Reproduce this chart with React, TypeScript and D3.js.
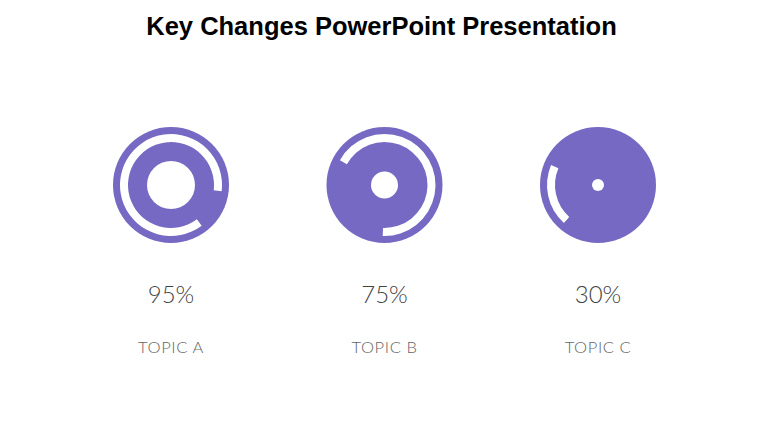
import React, { useRef, useEffect } from 'react';
import * as d3 from 'd3';

// Data
const topics = ['TOPIC A', 'TOPIC B', 'TOPIC C'];
const percents = [95, 75, 30];
// white progress arc, degrees clockwise from 12 o'clock
const arcStarts = [143, -61, 222];
const arcEnds = [457, 182, 293];
// white centre hole radius (px)
const holeRadii = [24, 13.5, 6];

const W = 768;
const H = 432;
const PURPLE = '#7569c3';

const App = () => {
  const svgRef = useRef<SVGSVGElement | null>(null);

  useEffect(() => {
    const svg = d3.select(svgRef.current);
    svg.selectAll('*').remove();

    svg.append('rect').attr('width', W).attr('height', H).attr('fill', '#ffffff');

    // titulo
    svg.append('text')
      .attr('x', 381.5)
      .attr('y', 35)
      .attr('text-anchor', 'middle')
      .style('font-family', 'Liberation Sans, Arial, sans-serif')
      .style('font-weight', 'bold')
      .style('font-size', '25.5px')
      .attr('fill', '#000')
      .text('Key Changes PowerPoint Presentation');

    const x = d3.scalePoint<string>()
      .domain(topics)
      .range([171, 598]);

    const cy = 185;
    const outerR = 58;
    const toRad = (d: number) => (d * Math.PI) / 180;

    const ring = d3.arc<any>()
      .innerRadius(43)
      .outerRadius(51);

    topics.forEach((t, i) => {
      const g = svg.append('g')
        .attr('transform', `translate(${x(t)},${cy})`);

      g.append('circle').attr('r', outerR).attr('fill', PURPLE);

      g.append('path')
        .attr('d', ring({ startAngle: toRad(arcStarts[i]), endAngle: toRad(arcEnds[i]) }))
        .attr('fill', '#ffffff');

      g.append('circle').attr('r', holeRadii[i]).attr('fill', '#ffffff');

      g.append('text')
        .attr('y', 295 - cy + 8)
        .attr('text-anchor', 'middle')
        .style('font-family', 'Lato, "Open Sans", sans-serif')
        .style('font-weight', 300)
        .style('font-size', '24px')
        .attr('fill', '#444')
        .text(`${percents[i]}%`);

      g.append('text')
        .attr('y', 353 - cy)
        .attr('text-anchor', 'middle')
        .style('font-family', 'Lato, "Open Sans", sans-serif')
        .style('font-weight', 300)
        .style('font-size', '16.5px')
        .style('letter-spacing', '0.6px')
        .attr('fill', '#666')
        .text(t);
    });
  }, []);

  return (
    <svg
      ref={svgRef}
      width={W}
      height={H}
      style={{ position: 'absolute', left: 0, top: 0 }}
    />
  );
};

export default App;
